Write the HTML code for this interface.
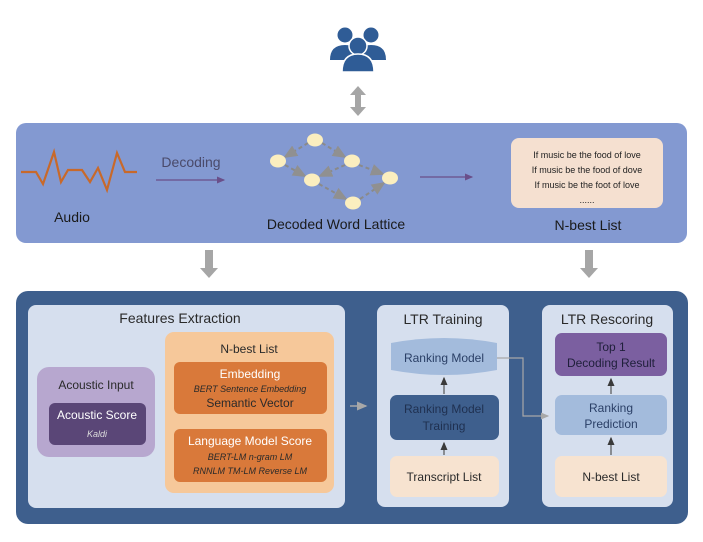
<!DOCTYPE html>
<html><head><style>
body{margin:0;background:#fff;}
svg text{font-family:"Liberation Sans",sans-serif;}
</style></head><body>
<svg width="703" height="537" viewBox="0 0 703 537" xmlns="http://www.w3.org/2000/svg">
<defs>
<marker id="ap" markerWidth="8" markerHeight="8" refX="6" refY="4" orient="auto"><path d="M0,1 L7,4 L0,7z" fill="#6a4f8a"/></marker>
<marker id="ag" markerWidth="8" markerHeight="8" refX="6" refY="4" orient="auto"><path d="M0,1 L7,4 L0,7z" fill="#909090"/></marker>
<marker id="ad" markerWidth="8" markerHeight="8" refX="6" refY="4" orient="auto"><path d="M0,1 L7,4 L0,7z" fill="#3a3a3a"/></marker>
<marker id="al" markerWidth="8" markerHeight="8" refX="6" refY="4" orient="auto"><path d="M0,1 L7,4 L0,7z" fill="#a8a8a8"/></marker>
</defs>
<!-- users icon -->
<g fill="#2f5c96">
<circle cx="345" cy="35" r="7.5"/><circle cx="371" cy="35" r="7.5"/>
<path d="M330,60 q0,-15 15,-15 q15,0 15,15z"/><path d="M356,60 q0,-15 15,-15 q15,0 15,15z"/>
<circle cx="358" cy="46" r="9" stroke="#fff" stroke-width="1.5"/>
<path d="M342,72 q0,-18 16,-18 q16,0 16,18z" stroke="#fff" stroke-width="1.5"/>
</g>
<!-- double arrow -->
<path d="M358,86 L366,95 L361,95 L361,107 L366,107 L358,116 L350,107 L355,107 L355,95 L350,95z" fill="#a6a6a6"/>
<!-- top band -->
<rect x="16" y="123" width="671" height="120" rx="10" fill="#8399d1"/>
<polyline points="21,172 36,172 43,184 54,152 61,182 68,170 82,170 90,182 98,168 107,190 117,153 125,172 137,172" fill="none" stroke="#c8692a" stroke-width="2.2"/>
<text x="72" y="222" font-size="14" text-anchor="middle" fill="#1a1a1a">Audio</text>
<text x="191" y="167" font-size="14" text-anchor="middle" fill="#4a4a6a">Decoding</text>
<line x1="156" y1="180" x2="224" y2="180" stroke="#6a4f8a" stroke-width="1.2" marker-end="url(#ap)"/>
<g stroke="#8a8a8a" stroke-width="2" stroke-dasharray="4,3" fill="none">
<line x1="308" y1="143" x2="285" y2="157" marker-end="url(#ag)"/>
<line x1="322" y1="143" x2="345" y2="157" marker-end="url(#ag)"/>
<line x1="285" y1="165" x2="305" y2="176" marker-end="url(#ag)"/>
<line x1="345" y1="165" x2="320" y2="176" marker-end="url(#ag)"/>
<line x1="359" y1="165" x2="383" y2="174" marker-end="url(#ag)"/>
<line x1="319" y1="184" x2="346" y2="199" marker-end="url(#ag)"/>
<line x1="360" y1="199" x2="384" y2="183" marker-end="url(#ag)"/>
</g>
<g fill="#fbeebf">
<ellipse cx="315" cy="140" rx="8" ry="6.5"/><ellipse cx="278" cy="161" rx="8" ry="6.5"/>
<ellipse cx="352" cy="161" rx="8" ry="6.5"/><ellipse cx="312" cy="180" rx="8" ry="6.5"/>
<ellipse cx="390" cy="178" rx="8" ry="6.5"/><ellipse cx="353" cy="203" rx="8" ry="6.5"/>
</g>
<text x="336" y="229" font-size="14" text-anchor="middle" fill="#1a1a1a">Decoded Word Lattice</text>
<line x1="420" y1="177" x2="472" y2="177" stroke="#6a4f8a" stroke-width="1.2" marker-end="url(#ap)"/>
<rect x="511" y="138" width="152" height="70" rx="8" fill="#f5e0d0"/>
<g font-size="9" text-anchor="middle" fill="#222">
<text x="587" y="158">If music be the food of love</text>
<text x="587" y="173">If music be the food of dove</text>
<text x="587" y="188">If music be the foot of love</text>
<text x="587" y="203">......</text>
</g>
<text x="588" y="230" font-size="14" text-anchor="middle" fill="#1a1a1a">N-best List</text>
<!-- down arrows -->
<path d="M205,250 h8 v18 h5 l-9,10 l-9,-10 h5z" fill="#a6a6a6"/>
<path d="M585,250 h8 v18 h5 l-9,10 l-9,-10 h5z" fill="#a6a6a6"/>
<!-- bottom band -->
<rect x="16" y="291" width="672" height="233" rx="12" fill="#3e5f8d"/>
<rect x="28" y="305" width="317" height="203" rx="8" fill="#d6dfee"/>
<text x="180" y="323" font-size="14" text-anchor="middle" fill="#2a2a2a">Features Extraction</text>
<rect x="165" y="332" width="169" height="161" rx="9" fill="#f6c89a"/>
<text x="249" y="353" font-size="12" text-anchor="middle" fill="#2a2a2a">N-best List</text>
<rect x="174" y="362" width="153" height="52" rx="6" fill="#d9793a"/>
<text x="250" y="378" font-size="12" text-anchor="middle" fill="#fff">Embedding</text>
<text x="250" y="392" font-size="9" font-style="italic" text-anchor="middle" fill="#2a2a2a">BERT Sentence Embedding</text>
<text x="250" y="407" font-size="12" text-anchor="middle" fill="#2a2a2a">Semantic Vector</text>
<rect x="174" y="429" width="153" height="53" rx="6" fill="#d9793a"/>
<text x="250" y="445" font-size="12" text-anchor="middle" fill="#fff">Language Model Score</text>
<text x="250" y="460" font-size="9" font-style="italic" text-anchor="middle" fill="#2a2a2a">BERT-LM n-gram LM</text>
<text x="250" y="474" font-size="9" font-style="italic" text-anchor="middle" fill="#2a2a2a">RNNLM TM-LM Reverse LM</text>
<rect x="37" y="367" width="118" height="90" rx="12" fill="#b7a7cf"/>
<text x="96" y="389" font-size="12" text-anchor="middle" fill="#2a2a2a">Acoustic Input</text>
<rect x="49" y="403" width="97" height="42" rx="6" fill="#5a4677"/>
<text x="97" y="419" font-size="12" text-anchor="middle" fill="#fff">Acoustic Score</text>
<text x="97" y="437" font-size="9" font-style="italic" text-anchor="middle" fill="#ddd">Kaldi</text>
<line x1="350" y1="406" x2="366" y2="406" stroke="#a8a8a8" stroke-width="1.5" marker-end="url(#al)"/>
<!-- LTR training -->
<rect x="377" y="305" width="132" height="202" rx="8" fill="#d6dfee"/>
<text x="443" y="324" font-size="14" text-anchor="middle" fill="#2a2a2a">LTR Training</text>
<path d="M391,343 q53,-10 106,0 v27 q-53,10 -106,0z" fill="#a3bbdc"/>
<text x="444" y="362" font-size="12" text-anchor="middle" fill="#2a3f66">Ranking Model</text>
<rect x="390" y="395" width="109" height="45" rx="7" fill="#3e5f8d"/>
<text x="444" y="413" font-size="12" text-anchor="middle" fill="#1f3050">Ranking Model</text>
<text x="444" y="430" font-size="12" text-anchor="middle" fill="#1f3050">Training</text>
<rect x="390" y="456" width="109" height="41" rx="7" fill="#f7e3d0"/>
<text x="444" y="481" font-size="12" text-anchor="middle" fill="#2a2a2a">Transcript List</text>
<line x1="444" y1="394" x2="444" y2="378" stroke="#555" stroke-width="1.2" marker-end="url(#ad)"/>
<line x1="444" y1="455" x2="444" y2="443" stroke="#555" stroke-width="1.2" marker-end="url(#ad)"/>
<!-- LTR rescoring -->
<rect x="542" y="305" width="131" height="202" rx="8" fill="#d6dfee"/>
<text x="607" y="324" font-size="14" text-anchor="middle" fill="#2a2a2a">LTR Rescoring</text>
<rect x="555" y="333" width="112" height="43" rx="7" fill="#7b5fa0"/>
<text x="611" y="351" font-size="12" text-anchor="middle" fill="#1f1f3a">Top 1</text>
<text x="611" y="367" font-size="12" text-anchor="middle" fill="#1f1f3a">Decoding Result</text>
<rect x="555" y="395" width="112" height="40" rx="7" fill="#a3bbdc"/>
<text x="611" y="412" font-size="12" text-anchor="middle" fill="#2a3f66">Ranking</text>
<text x="611" y="428" font-size="12" text-anchor="middle" fill="#2a3f66">Prediction</text>
<rect x="555" y="456" width="112" height="41" rx="7" fill="#f7e3d0"/>
<text x="611" y="481" font-size="12" text-anchor="middle" fill="#2a2a2a">N-best List</text>
<line x1="611" y1="394" x2="611" y2="379" stroke="#555" stroke-width="1.2" marker-end="url(#ad)"/>
<line x1="611" y1="455" x2="611" y2="438" stroke="#555" stroke-width="1.2" marker-end="url(#ad)"/>
<polyline points="497,358 523,358 523,416 548,416" fill="none" stroke="#a8a8a8" stroke-width="1.2" marker-end="url(#al)"/>
</svg>
</body></html>
